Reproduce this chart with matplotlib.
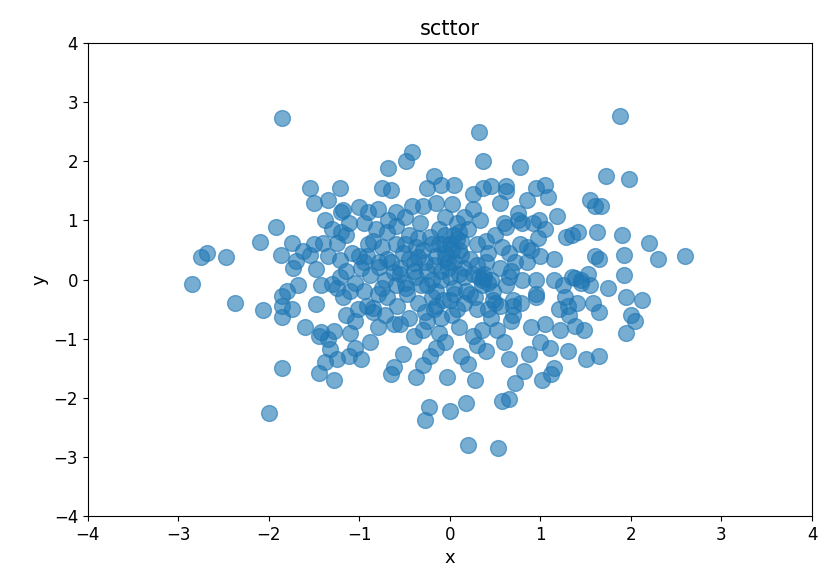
import matplotlib
matplotlib.use('Agg')
import matplotlib.pyplot as plt

# points
x_left = [-2.85, -2.75, -2.68, -2.47, -2.37, -2.1, -2.07, -2.0, -1.92, -1.85,
          -1.87, -1.85, -1.8, -1.85, -1.85, -1.85, -1.75, -1.75, -1.73, -1.7,
          -1.68, -1.62, -1.55, -1.6, -1.55, -1.5, -1.5, -1.48, -1.48, -1.42,
          -1.45, -1.42, -1.38, -1.4, -1.38, -1.35, -1.35, -1.35, -1.32, -1.3,
          -1.25, -1.28, -1.28, -1.25, -1.22, -1.2, -1.18, -1.2, -1.22, -1.22,
          -1.15, -1.18, -1.15, -1.1, -1.12, -1.08, -1.05, -1.05, -1.05, -1.0,
          -1.02, -0.98, -0.98, -0.92, -0.95, -0.9, -0.88, -0.85, -0.85, -0.82,
          -0.8, -0.78, -0.78, -0.8, -0.75, -0.75, -0.72, -0.72, -0.7, -0.7]
y_left = [-0.08, 0.38, 0.45, 0.38, -0.4, 0.63, -0.52, -2.25, 0.88, 2.73,
          0.42, -0.27, -0.2, -0.45, -0.63, -1.5, 0.62, -0.5, 0.2, 0.32,
          -0.1, 0.48, 0.42, -0.8, 1.55, 1.3, 0.6, 0.18, -0.42, -0.1,
          -1.58, -0.88, 1.0, 0.62, -1.4, 1.35, 0.4, -1.0, -1.18, -0.08,
          -0.15, -1.7, -0.87, -1.35, 1.55, 1.15, 1.18, 0.8, 0.33, 0.05,
          0.75, -0.3, -0.6, -0.9, -1.3, 0.45, -0.05, -0.7, -1.15, 1.22,
          -0.5, 0.2, -1.35, 0.4, -0.2, 1.15, -1.05, 0.65, -0.48, 0.85,
          1.2, 0.3, 0.22, -0.8, 1.55, 0.55, 0.0, -0.6, -0.3, 0.8]

x_mid = [-0.68, -0.68, -0.65, -0.65, -0.65, -0.62, -0.6, -0.6, -0.6, -0.58,
         -0.55, -0.55, -0.52, -0.52, -0.5, -0.48, -0.47, -0.45, -0.45, -0.42,
         -0.42, -0.4, -0.4, -0.38, -0.38, -0.35, -0.33, -0.32, -0.3, -0.3,
         -0.28, -0.28, -0.25, -0.25, -0.23, -0.22, -0.2, -0.2, -0.18, -0.18,
         -0.15, -0.15, -0.15, -0.12, -0.12, -0.1, -0.1, -0.08, -0.07, -0.05,
         -0.03, -0.02, 0.0, 0.0, 0.02, 0.02, 0.05, 0.05, 0.08, 0.1,
         0.1, 0.12, 0.15, 0.15, 0.18, 0.2, 0.2, 0.2, 0.25, 0.25,
         0.25, 0.25, 0.28, 0.3, 0.3, 0.32, 0.33, 0.35, 0.37, 0.37,
         0.4, 0.4, 0.42, 0.45, 0.45, 0.45, 0.5, 0.5, 0.53, 0.55,
         0.55, 0.58, 0.6, 0.62, 0.62, 0.62, 0.62, 0.65, 0.65, 0.65]
y_mid = [1.0, 1.88, 1.52, 0.3, -1.6, -1.48, 1.15, -0.1, 0.6, -0.45,
         0.1, -0.75, 0.45, -1.25, 1.05, 2.0, -0.25, 0.75, -0.65, 2.15,
         1.25, 0.15, -0.95, -1.65, 0.55, -0.4, 0.95, -0.1, -1.45, 1.25,
         0.3, -2.38, 1.55, -0.7, -2.15, -1.3, 0.6, 0.0, 1.75, -0.5,
         1.3, 0.4, -0.2, 0.85, -0.9, 1.6, 0.15, -0.35, 0.6, -1.05,
         -1.65, 0.3, -2.22, 0.05, 1.28, -0.6, 0.75, -0.15, 0.95, -0.8,
         0.5, -1.3, 0.2, -0.4, -2.08, -2.8, 0.85, -1.42, 1.45, 1.2,
         0.1, -0.95, -1.7, 0.6, -0.5, 2.5, 1.0, -0.1, 2.0, 1.55,
         0.3, -1.2, 0.45, 1.58, 0.0, -0.65, 0.75, -0.4, -2.85, 1.3,
         0.2, -2.05, -1.05, 1.58, 1.5, 0.88, -0.1, -2.02, -1.35, 0.45]

x_right = [0.68, 0.7, 0.72, 0.75, 0.75, 0.77, 0.77, 0.78, 0.8, 0.8,
           0.82, 0.85, 0.85, 0.87, 0.9, 0.9, 0.92, 0.95, 0.95, 0.95,
           0.97, 0.98, 1.0, 1.02, 1.05, 1.05, 1.08, 1.1, 1.12, 1.15,
           1.15, 1.18, 1.2, 1.22, 1.25, 1.27, 1.28, 1.3, 1.32, 1.35,
           1.35, 1.38, 1.4, 1.42, 1.45, 1.48, 1.5, 1.52, 1.55, 1.55,
           1.58, 1.6, 1.6, 1.62, 1.65, 1.65, 1.65, 1.67, 1.72, 1.75,
           1.88, 1.9, 1.92, 1.92, 1.95, 1.95, 1.98, 2.0, 2.05, 2.12,
           2.2, 2.3, 2.6]
y_right = [-0.7, -0.35, -1.75, 1.12, 1.0, 1.9, 0.6, -0.4, 0.0, 0.95,
           -1.55, 1.35, 0.3, -1.25, 0.5, -0.8, 0.95, 1.55, 0.0, -0.25,
           0.7, 1.0, -1.05, -1.7, 1.6, -0.75, 1.4, -1.15, -1.6, -1.5,
           0.0, 1.08, -0.5, -0.85, -0.1, -0.3, 0.72, -1.2, -0.6, 0.75,
           0.05, -0.78, -0.4, 0.8, 0.0, -0.85, -1.35, 0.1, 1.35, -0.1,
           -0.4, 1.25, 0.4, 0.8, -0.55, -1.3, 0.35, 1.25, 1.75, -0.15,
           2.77, 0.75, 0.42, 0.08, -0.3, -0.9, 1.7, -0.6, -0.7, -0.35,
           0.62, 0.35, 0.4]

# extra points in the crowded centre
x_extra = [-1.25, -1.12, -0.95, -0.9, -0.88, -0.75, -0.62, -0.5, -0.45, -0.38,
           -0.35, -0.3, -0.25, -0.2, -0.1, -0.05, 0.0, 0.05, 0.08, 0.12,
           0.18, 0.22, 0.28, 0.35, 0.38, 0.42, 0.48, 0.52, 0.58, 0.65,
           0.7, 0.72, 0.35, -0.6, -0.8, -1.0, 0.15, 0.05, -0.05, 0.3,
           -0.15, 0.55, 0.6, 0.85, 1.0, 1.15, -1.3, -1.45, -1.1, 0.4,
           -0.05, 0.0, 0.1,
           -0.3, -0.22, -0.12, -0.05, 0.02, 0.08, -0.18, -0.1, 0.12, -0.4,
           -0.55, -0.7, -0.62, -0.48, -0.35, -0.25, -0.15, 0.05, 0.15, 0.22,
           0.32, 0.38, 0.42, 0.48, -0.85, -0.95, 0.7, 0.68, 1.38, 1.45,
           1.3, -0.02, 0.1, -0.28, -0.5, 0.3, -0.92, -1.15, 0.95, 1.05]
y_extra = [0.62, 0.95, 0.95, 0.6, 0.08, -0.15, -0.75, -0.05, 0.35, 0.05,
           0.7, -0.85, 0.15, -0.3, -0.65, 0.45, -0.35, 0.3, -0.5, 0.65,
           -0.2, 0.35, -0.3, 0.0, 0.1, -0.5, -0.2, -0.85, 0.55, 0.05,
           -0.6, 0.3, -0.85, 0.9, -0.25, 0.4, 1.05, 1.6, 1.05, -1.1,
           -1.15, -0.45, 0.95, 0.55, 0.4, 0.35, 0.85, -0.95, -0.2, 0.65,
           0.75, 0.6, 0.1,
           0.5, 0.72, 0.6, 0.35, 0.5, 0.68, 0.25, 0.0, 0.42, 0.28,
           0.2, 0.35, 0.12, -0.15, 0.38, -0.1, -0.45, -0.25, 0.05, -0.25,
           0.05, 0.02, -0.05, -0.35, -0.55, 0.3, -0.45, 0.15, 0.02, -0.05,
           -0.45, 0.2, 0.8, -0.55, 0.6, 0.25, -0.45, 0.15, -0.3, 0.85]

x = x_left + x_mid + x_right + x_extra
y = y_left + y_mid + y_right + y_extra

fig = plt.figure(figsize=(8.29, 5.8), dpi=100)
ax = fig.add_axes([0.106, 0.110, 0.8735, 0.816])
ax.scatter(x, y, s=130, alpha=0.6, color='#1f77b4')
ax.set_xlim(-4, 4)
ax.set_ylim(-4, 4)
ax.set_title('scttor', fontsize=15)
ax.set_xlabel('x', fontsize=13)
ax.set_ylabel('y', fontsize=13)
ax.tick_params(labelsize=12)
fig.savefig('out.png')
